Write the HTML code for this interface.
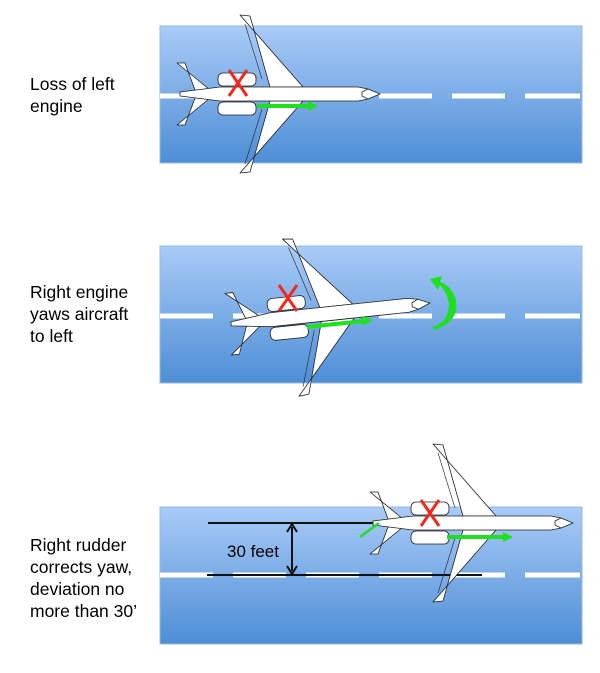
<!DOCTYPE html>
<html><head><meta charset="utf-8"><style>
body{margin:0;width:600px;height:673px;background:#fff;overflow:hidden;font-family:"Liberation Sans",sans-serif}
.t{position:absolute;left:30px;font-size:17.5px;line-height:22px;color:#000}
</style></head><body>
<svg width="600" height="673" style="position:absolute;left:0;top:0">
<defs>
<linearGradient id="g" x1="0" y1="0" x2="0" y2="1"><stop offset="0" stop-color="#a9cbf7"/><stop offset="1" stop-color="#4e8ed6"/></linearGradient>
<g id="pl" fill="#fff" stroke="#222" stroke-width="0.8" stroke-linejoin="round">
<path d="M-77,-7 L-140,-79 L-130,-78 L-112,-14 L-110,-7 Z"/>
<path d="M-77,7 L-140,79 L-130,78 L-112,14 L-110,7 Z"/>
<path d="M-135,-70 L-118,-15 M-135,70 L-118,15" fill="none" stroke-width="0.6"/>
<path d="M-170,-4 L-203,-31 L-195,-31 L-185,-4 Z"/>
<path d="M-170,4 L-203,31 L-195,31 L-185,4 Z"/>
<rect x="-162" y="-21" width="38" height="13" rx="5"/>
<rect x="-162" y="8" width="38" height="13" rx="5"/>
<path d="M0,0 L-12,-5 L-22,-7 L-160,-7 L-200,-2 L-200,2 L-160,7 L-22,7 L-12,5 Z"/>
<path d="M-12,-5 L-18,-2 L-18,2 L-12,5" fill="none"/>
</g>
<g id="x" stroke="#f0281e" stroke-width="3" fill="none"><path d="M-9,-13 L9,13 M9,-13 L-9,13"/></g>
</defs>
<g fill="url(#g)" stroke="#9ab8dc" stroke-width="1">
<rect x="160" y="26" width="422" height="137"/>
<rect x="160" y="246" width="422" height="137"/>
<rect x="160" y="507" width="422" height="137"/>
</g>
<g stroke="#fff" stroke-width="5">
<path d="M160,96h53M233,96h53M306,96h53M379,96h53M452,96h53M525,96h55"/>
<path d="M160,316h53M233,316h53M306,316h53M379,316h53M452,316h53M525,316h55"/>
<path d="M160,575h53M233,575h53M306,575h53M379,575h53M452,575h53M525,575h55"/>
</g>
<use href="#pl" x="380" y="94"/>
<use href="#x" x="238" y="83"/>
<path d="M257,106 H310" stroke="#1fe01f" stroke-width="4"/><path d="M308,101 L318,106 L308,111Z" fill="#1fe01f"/>
<g transform="translate(430,303) rotate(-6)"><use href="#pl"/></g>
<use href="#x" x="288" y="298"/>
<path d="M307,327 L364,321" stroke="#1fe01f" stroke-width="4"/><path d="M362,316 L373,320 L363,326Z" fill="#1fe01f"/>
<path d="M435,330 Q462,320 455,297 Q450,285 440,282 L442,276 L430,279 L438,290 L440,285 Q453,300 447,315 Q442,325 432,327 Z" fill="#1fe01f"/>
<path d="M208,523 H375 M207,575 H482" stroke="#111" stroke-width="2"/>
<path d="M292,527 V571" stroke="#111" stroke-width="2"/>
<path d="M287,532 L292,524 L297,532 M287,566 L292,574 L297,566" stroke="#111" stroke-width="2" fill="none"/>
<text x="227" y="557" font-size="17" font-family="Liberation Sans,sans-serif">30 feet</text>
<use href="#pl" x="573" y="523"/>
<use href="#x" x="430" y="513"/>
<path d="M447,537 H505" stroke="#1fe01f" stroke-width="4"/><path d="M503,532 L513,537 L503,542Z" fill="#1fe01f"/>
<path d="M360,537 L379,523" stroke="#1fe01f" stroke-width="2.5"/>
</svg>
<div class="t" style="top:73px">Loss of left<br>engine</div>
<div class="t" style="top:281px">Right engine<br>yaws aircraft<br>to left</div>
<div class="t" style="top:534px">Right rudder<br>corrects yaw,<br>deviation no<br>more than 30’</div>
</body></html>
